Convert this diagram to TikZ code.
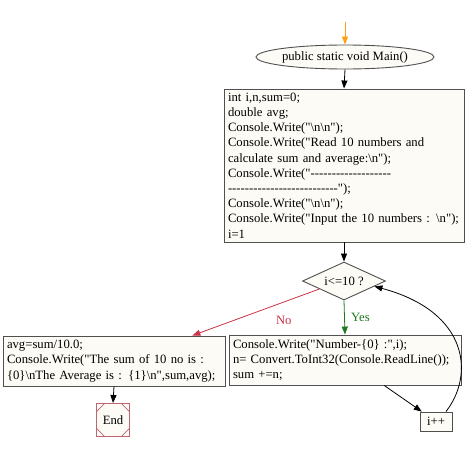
\documentclass[tikz,border=0pt]{standalone}
\usepackage{fontspec}
\setmainfont{Liberation Serif}[Ligatures=TeXOff]
\usetikzlibrary{shapes.geometric,arrows.meta,calc}
\definecolor{boxfill}{RGB}{253,251,245}
\definecolor{boxline}{RGB}{80,80,80}
\definecolor{endline}{RGB}{190,100,115}
\definecolor{noline}{RGB}{205,50,70}
\definecolor{yesline}{RGB}{30,120,30}
\definecolor{startline}{RGB}{255,160,20}
\begin{document}
\begin{tikzpicture}[x=1pt,y=-1pt,
  every node/.style={font=\fontsize{12.7}{15.2}\selectfont},
  box/.style={draw=boxline,fill=boxfill,rectangle,line width=0.9pt,inner xsep=4pt,inner ysep=0pt,align=left},
  edge/.style={line width=0.8pt,-{Triangle[length=8pt,width=6pt]}},
]
\useasboundingbox (0,0) rectangle (474,450);
\coordinate (start) at (345,22);
\node[ellipse,draw=boxline,fill=boxfill,line width=0.9pt,minimum width=142,minimum height=24,inner sep=0pt] (main) at (345,57) {public static void Main()};
\node[box,text width=232,minimum height=153] (init) at (344,165.5) {int i,n,sum=0;\\double avg;\\Console.Write("\textbackslash n\textbackslash n");\\Console.Write("Read 10 numbers and\\calculate sum and average:\textbackslash n");\\Console.Write("-------------------\\--------------------------");\\Console.Write("\textbackslash n\textbackslash n");\\Console.Write("Input the 10 numbers : \textbackslash n");\\i=1};
\node[diamond,draw=boxline,fill=boxfill,line width=0.9pt,aspect=2.18,minimum width=83,minimum height=38,inner sep=0pt] (dia) at (344,281) {i<=10 ?};
\node[box,text width=214,minimum height=50] (avg) at (114,361) {avg=sum/10.0;\\Console.Write("The sum of 10 no is :\\\{0\}\textbackslash nThe Average is : \{1\}\textbackslash n",sum,avg);};
\node[box,text width=224,minimum height=50] (body) at (345,360) {Console.Write("Number-\{0\} :",i);\\n= Convert.ToInt32(Console.ReadLine());\\sum +=n;};
\node[box,inner xsep=0pt,minimum width=32,minimum height=19,align=center] (inc) at (436,421.5) {i++};
\node[draw=endline,fill=boxfill,line width=0.9pt,minimum width=33,minimum height=33,inner sep=0pt] (end) at (113,420) {End};
\draw[endline,line width=0.6pt] ($(end.north west)+(9,0)$) -- ($(end.north west)+(0,9)$)
  ($(end.north east)+(-9,0)$) -- ($(end.north east)+(0,9)$)
  ($(end.south west)+(9,0)$) -- ($(end.south west)+(0,-9)$)
  ($(end.south east)+(-9,0)$) -- ($(end.south east)+(0,-9)$);
\draw[edge,startline] (start) -- (main.north);
\draw[edge] (main.south) -- (init.north);
\draw[edge] (init.south) -- (dia.north);
\draw[edge,yesline] (dia.south) -- node[right,text=yesline,pos=0.5,xshift=3pt] {Yes} (body.north);
\draw[edge,noline] (dia.198) -- node[text=noline,pos=0.28,below,yshift=-10pt] {No} (avg.18.7);
\draw[edge] (avg.south) -- (end.north);
\draw[edge] (body.-33) -- (inc.145);
\draw[edge] (inc.45) .. controls (474,376) and (470,312) .. (dia.-10);
\end{tikzpicture}
\end{document}
